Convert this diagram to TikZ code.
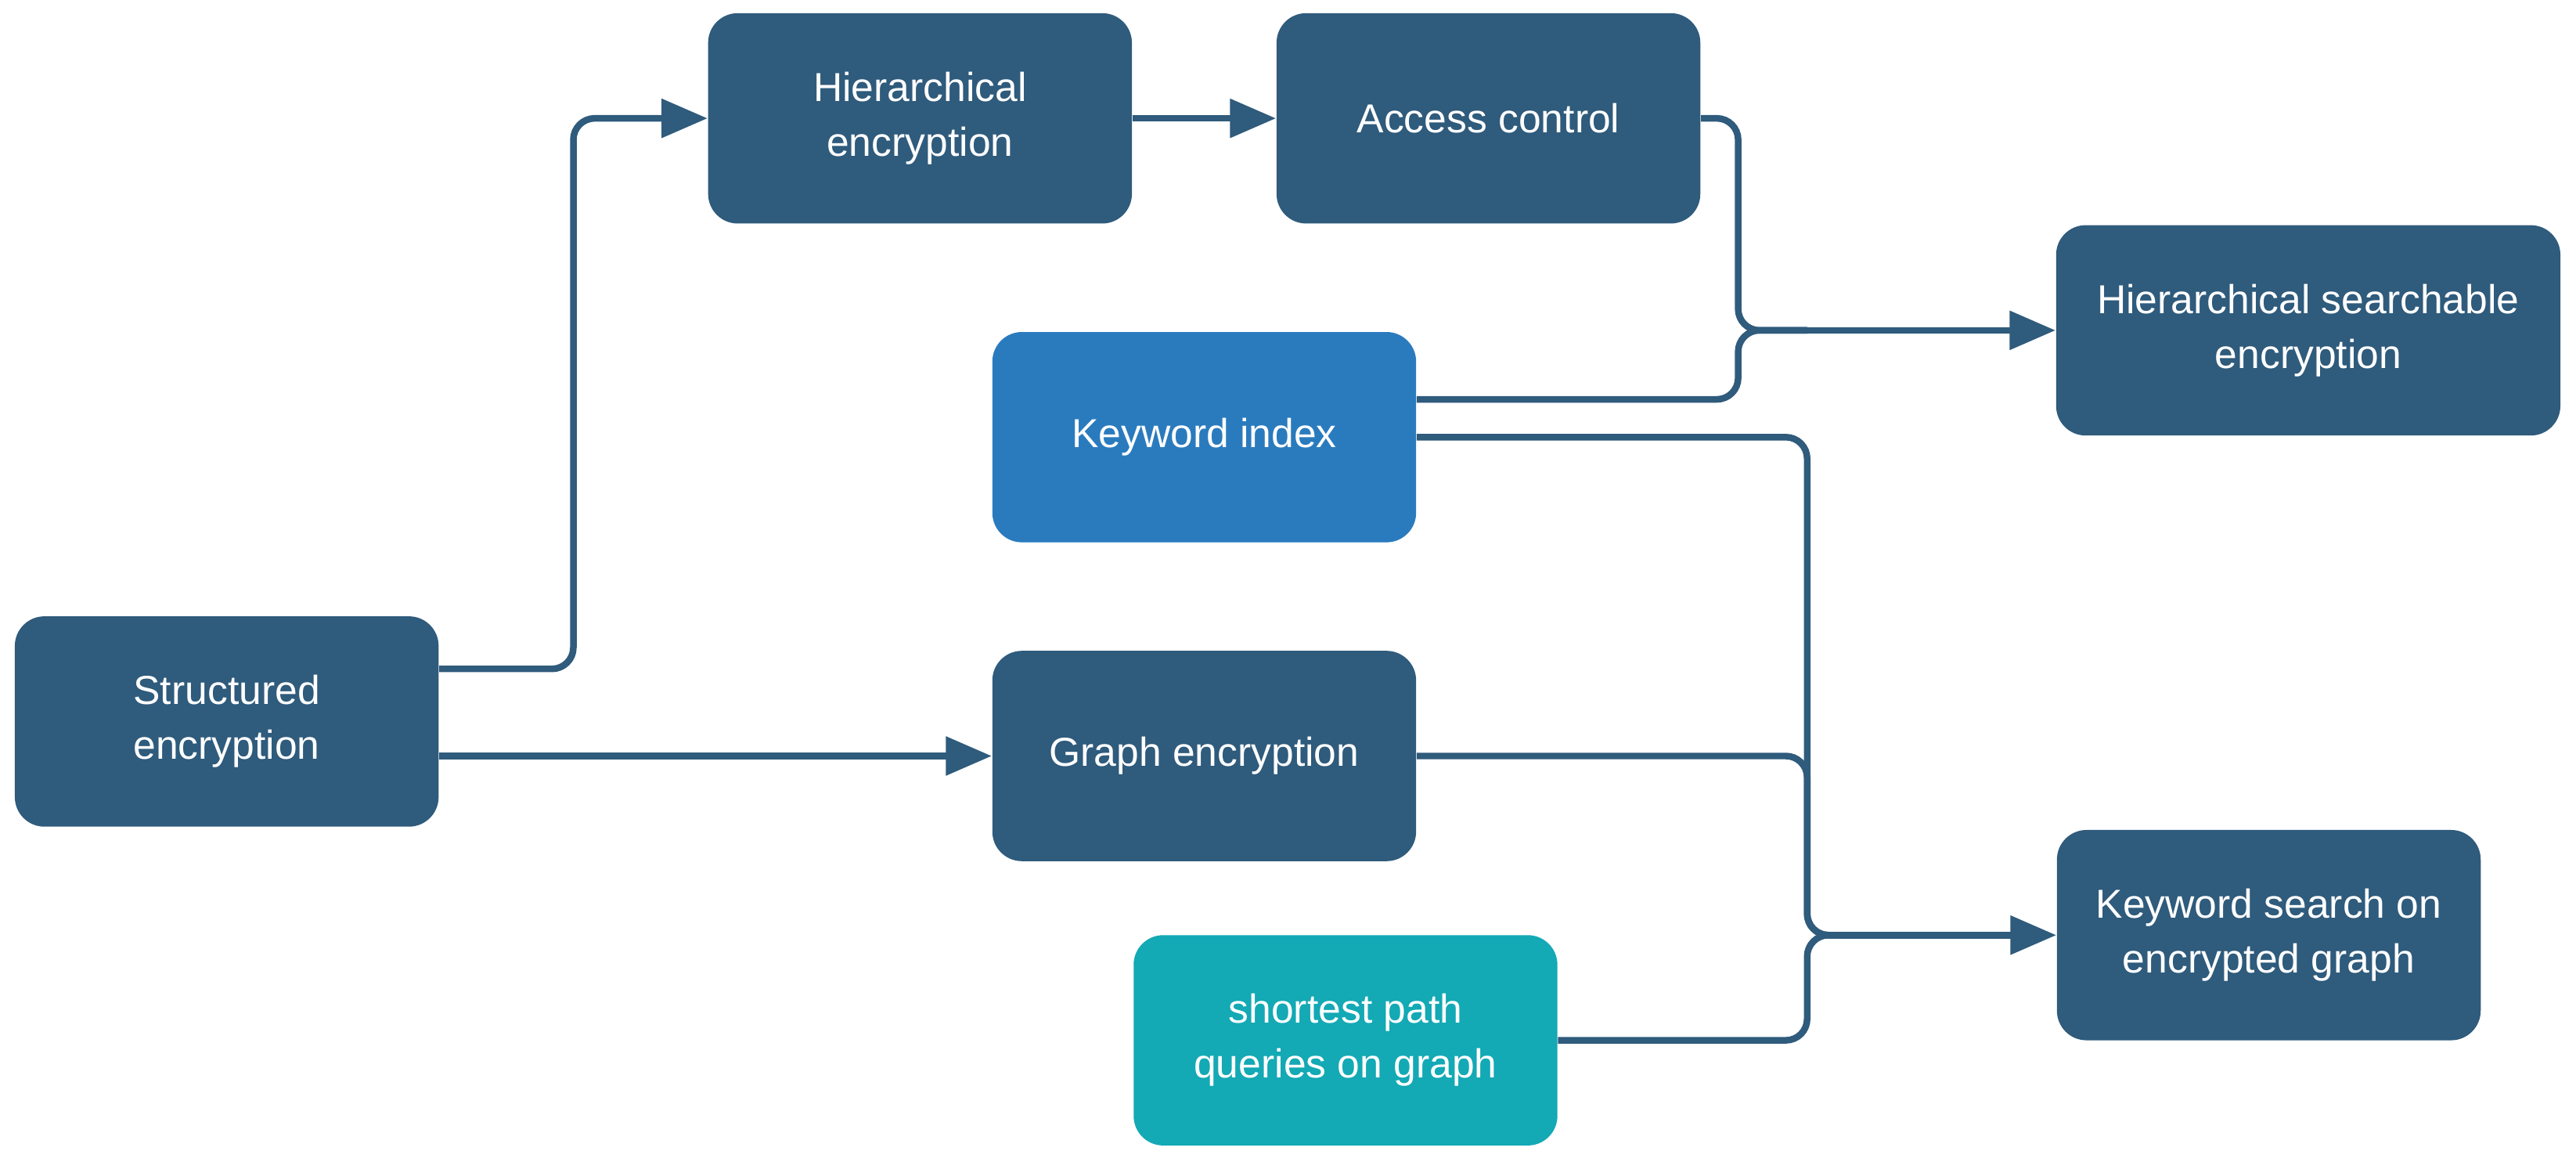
\documentclass[tikz,border=0pt]{standalone}
\usepackage{fontspec}
\setmainfont{Liberation Sans}
\usetikzlibrary{arrows.meta}
\definecolor{dk}{HTML}{2F5B7C}
\definecolor{kw}{HTML}{2A7BBE}
\definecolor{tl}{HTML}{13A9B5}
\begin{document}
\begin{tikzpicture}[x=0.02cm,y=-0.02cm,
 box/.style={draw=none,fill=dk,rounded corners=0.36cm,minimum width=5.16cm,minimum height=2.56cm,text=white,align=center,font=\fontsize{14}{19}\selectfont,inner sep=0},
 ln/.style={draw=dk,line width=2.3pt,rounded corners=0.26cm},
 ar/.style={ln,-{Triangle[length=0.56cm,width=0.46cm]}}]
\useasboundingbox (0,0) rectangle (1568,707);
\node[box] (S) at (138,439) {Structured\\encryption};
\node[box] (H) at (560,72) {Hierarchical\\encryption};
\node[box] (A) at (906,72) {Access control};
\node[box,minimum width=6.14cm] (HSE) at (1405,201) {Hierarchical searchable\\encryption};
\node[box,fill=kw] (K) at (733,266) {Keyword index};
\node[box] (G) at (733,460) {Graph encryption};
\node[box,fill=tl] (P) at (819,633) {shortest path\\queries on graph};
\node[box] (KS) at (1381,569) {Keyword search on\\encrypted graph};
\draw[ar] (S.east |- 0,407) -- (349,407) -- (349,72) -- (H.west);
\draw[ar] (S.east |- 0,460) -- (G.west);
\draw[ar] (H.east) -- (A.west);
\draw[ln] (A.east) -- (1058,72) -- (1058,201) -- (1100,201);
\draw[ln] (K.east |- 0,243) -- (1058,243) -- (1058,201) -- (1100,201);
\draw[ar] (1080,201) -- (HSE.west);
\draw[ln] (K.east |- 0,266) -- (1100,266) -- (1100,569) -- (1140,569);
\draw[ln] (G.east) -- (1100,460) -- (1100,569) -- (1140,569);
\draw[ln] (P.east |- 0,633) -- (1100,633) -- (1100,569) -- (1140,569);
\draw[ar] (1120,569) -- (KS.west);
\end{tikzpicture}
\end{document}
